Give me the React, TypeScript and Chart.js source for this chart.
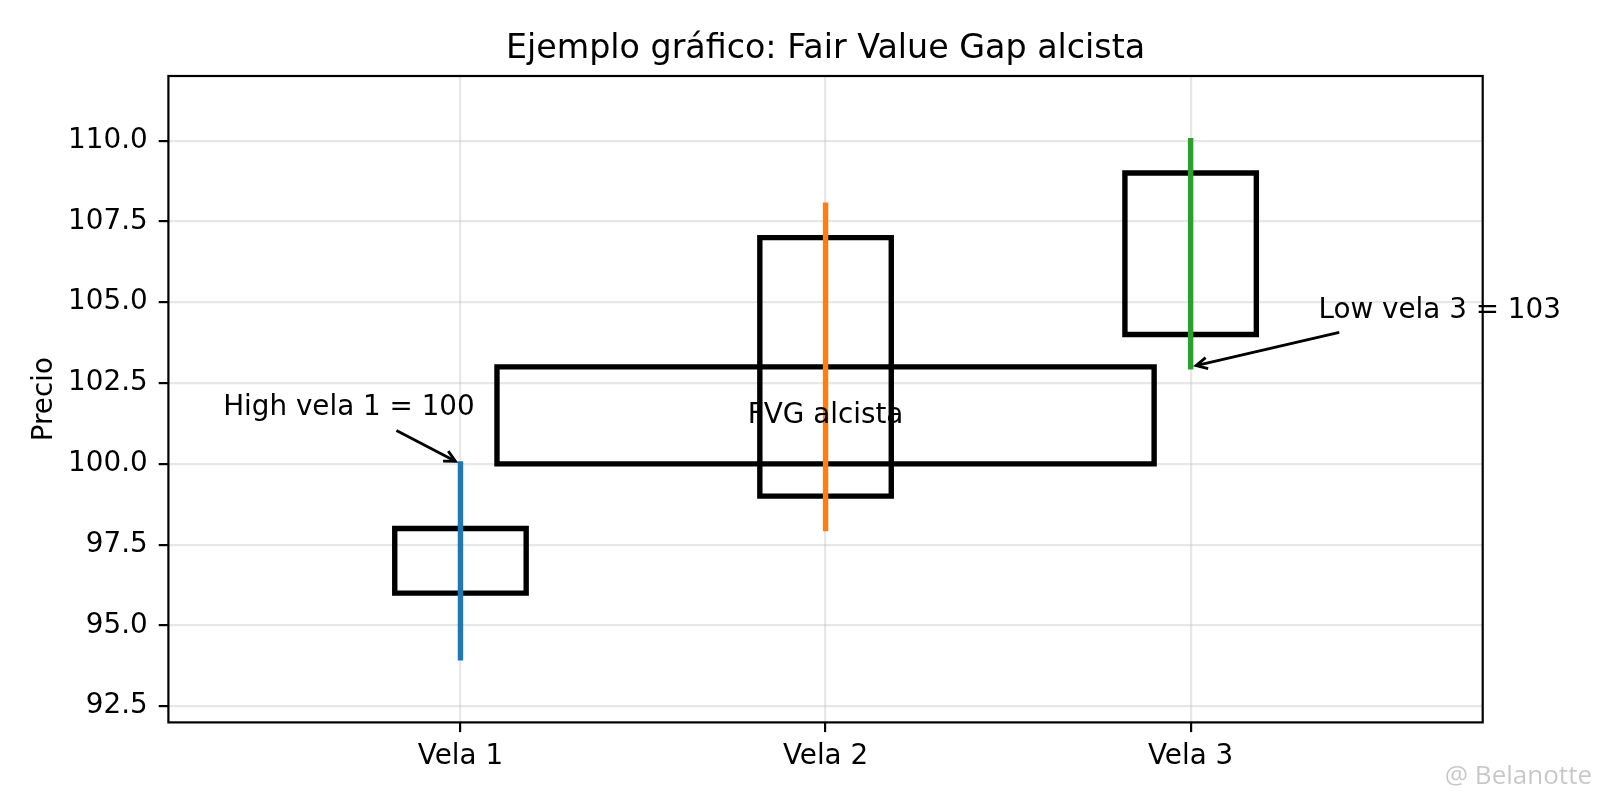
import { useEffect, useRef } from "react";
import { Chart, registerables } from "chart.js";

Chart.register(...registerables);

const categories: string[] = ["Vela 1", "Vela 2", "Vela 3"];
const openValues: number[] = [96, 99, 104];
const closeValues: number[] = [98, 107, 109];
const highValues: number[] = [100, 108, 110];
const lowValues: number[] = [94, 98, 103];
const wickColors: string[] = ["#1f77b4", "#ff7f0e", "#2ca02c"];
const yTickValues: number[] = [92.5, 95, 97.5, 100, 102.5, 105, 107.5, 110];

// zona del FVG: entre el high de la vela 1 y el low de la vela 3
const fvgStart = 0.1;
const fvgEnd = 1.9;
const fvgLow = highValues[0];
const fvgHigh = lowValues[2];
const fvgLabel = { text: "FVG alcista", x: 1, y: 101.5 };

type annotation = { text: string; x: number; y: number; textX: number; textY: number };
const annotations: annotation[] = [
    { text: "High vela 1 = 100", x: 0, y: 100, textX: -0.65, textY: 101.5 },
    { text: "Low vela 3 = 103", x: 2, y: 103, textX: 2.35, textY: 104.5 },
];

const chartTitle = "Ejemplo gráfico: Fair Value Gap alcista";
const BODY_HALF = 0.18;
const FONT = "'DejaVu Sans', sans-serif";
const TICK_SIZE = 27.8;
const LINE_W = 5.4;

const rectPoints = (x0: number, x1: number, y0: number, y1: number) => [
    { x: x0, y: y0 },
    { x: x1, y: y0 },
    { x: x1, y: y1 },
    { x: x0, y: y1 },
    { x: x0, y: y0 },
    { x: x1, y: y0 },
];

const annotatePlugin = {
    id: "annotate",
    afterDraw(chart: any) {
        const { ctx, chartArea, scales } = chart;
        const xs = scales.x;
        const ys = scales.y;
        ctx.save();

        // marco del gráfico
        ctx.strokeStyle = "#000";
        ctx.lineWidth = 2.2;
        ctx.strokeRect(chartArea.left, chartArea.top, chartArea.right - chartArea.left, chartArea.bottom - chartArea.top);

        // título centrado sobre los ejes
        ctx.font = `33.3px ${FONT}`;
        ctx.fillStyle = "#000";
        ctx.textAlign = "center";
        ctx.textBaseline = "alphabetic";
        ctx.fillText(chartTitle, (chartArea.left + chartArea.right) / 2, 58);

        ctx.font = `${TICK_SIZE}px ${FONT}`;
        ctx.textBaseline = "middle";
        ctx.fillText(fvgLabel.text, xs.getPixelForValue(fvgLabel.x), ys.getPixelForValue(fvgLabel.y));

        annotations.forEach((a) => {
            const tx = xs.getPixelForValue(a.textX);
            const ty = ys.getPixelForValue(a.textY);
            ctx.textAlign = "left";
            ctx.textBaseline = "alphabetic";
            ctx.fillStyle = "#000";
            ctx.fillText(a.text, tx, ty);

            const m = ctx.measureText(a.text);
            const asc = m.fontBoundingBoxAscent || TICK_SIZE * 0.93;
            const desc = m.fontBoundingBoxDescent || TICK_SIZE * 0.24;
            const pad = 5.6;
            const bx0 = tx - pad;
            const bx1 = tx + m.width + pad;
            const by0 = ty - asc - pad;
            const by1 = ty + desc + pad;
            const cx = (bx0 + bx1) / 2;
            const cy = (by0 + by1) / 2;

            const px = xs.getPixelForValue(a.x);
            const py = ys.getPixelForValue(a.y);
            const dx = px - cx;
            const dy = py - cy;
            const len = Math.hypot(dx, dy);
            const ux = dx / len;
            const uy = dy / len;
            const tX = dx !== 0 ? ((dx > 0 ? bx1 : bx0) - cx) / dx : Infinity;
            const tY = dy !== 0 ? ((dy > 0 ? by1 : by0) - cy) / dy : Infinity;
            const t = Math.min(tX, tY);
            const shrink = 5.6;
            const sx = cx + dx * t + ux * shrink;
            const sy = cy + dy * t + uy * shrink;
            const ex = px - ux * shrink;
            const ey = py - uy * shrink;

            ctx.strokeStyle = "#000";
            ctx.lineWidth = 2.8;
            ctx.lineCap = "butt";
            ctx.lineJoin = "miter";
            ctx.beginPath();
            ctx.moveTo(sx, sy);
            ctx.lineTo(ex, ey);
            ctx.stroke();

            const headLen = 11.1;
            const headW = 5.6;
            const bxp = ex - ux * headLen;
            const byp = ey - uy * headLen;
            ctx.beginPath();
            ctx.moveTo(bxp - uy * headW, byp + ux * headW);
            ctx.lineTo(ex, ey);
            ctx.lineTo(bxp + uy * headW, byp - ux * headW);
            ctx.stroke();
        });

        // marca de agua
        ctx.font = `26px 'Open Sans', sans-serif`;
        ctx.fillStyle = "rgba(0,0,0,0.22)";
        ctx.textAlign = "right";
        ctx.textBaseline = "alphabetic";
        ctx.fillText("@ Belanotte", 1592, 784);

        ctx.restore();
    },
};

export const FvgChart: React.FC = () => {
    const chartRef: any = useRef(null);

    useEffect(() => {
        document.body.style.margin = "0";
        let chartInstance: any = null;
        if (!chartRef.current) return;

        const wickSets = categories.map((_, i) => ({
            label: `Mecha ${categories[i]}`,
            data: [
                { x: i, y: lowValues[i] },
                { x: i, y: highValues[i] },
            ],
            showLine: true,
            borderColor: wickColors[i],
            borderWidth: LINE_W,
            borderCapStyle: "square",
            pointRadius: 0,
            order: 0,
        }));

        const bodySets = categories.map((_, i) => ({
            label: `Cuerpo ${categories[i]}`,
            data: rectPoints(i - BODY_HALF, i + BODY_HALF, openValues[i], closeValues[i]),
            showLine: true,
            borderColor: "#000",
            borderWidth: LINE_W,
            borderJoinStyle: "miter",
            pointRadius: 0,
            order: 1,
        }));

        const fvgSet = {
            label: "FVG",
            data: rectPoints(fvgStart, fvgEnd, fvgLow, fvgHigh),
            showLine: true,
            borderColor: "#000",
            borderWidth: LINE_W,
            borderJoinStyle: "miter",
            pointRadius: 0,
            order: 2,
        };

        const ctx = chartRef.current.getContext("2d");
        chartInstance = new Chart(ctx, {
            type: "scatter",
            data: { datasets: [...wickSets, ...bodySets, fvgSet] as any },
            options: {
                responsive: false,
                animation: false,
                devicePixelRatio: 1,
                events: [],
                layout: { padding: { left: 0, right: 117.3, top: 76, bottom: 0 } },
                plugins: {
                    legend: { display: false },
                    tooltip: { enabled: false },
                    title: { display: false },
                },
                scales: {
                    x: {
                        type: "linear",
                        min: -0.8,
                        max: 2.8,
                        afterBuildTicks: (scale: any) => {
                            scale.ticks = categories.map((_, i) => ({ value: i }));
                        },
                        afterFit: (scale: any) => {
                            scale.height = 77.6;
                        },
                        ticks: {
                            autoSkip: false,
                            maxRotation: 0,
                            padding: 8,
                            color: "#000",
                            font: { family: FONT, size: TICK_SIZE },
                            callback: (v: any) => categories[Math.round(Number(v))] ?? "",
                        },
                        grid: {
                            color: "rgba(176,176,176,0.3)",
                            lineWidth: 2.2,
                            tickColor: "#000",
                            tickWidth: 2.2,
                            tickLength: 9.7,
                        },
                        border: { display: false },
                    },
                    y: {
                        type: "linear",
                        min: 92,
                        max: 112,
                        afterBuildTicks: (scale: any) => {
                            scale.ticks = yTickValues.map((v) => ({ value: v }));
                        },
                        afterFit: (scale: any) => {
                            scale.width = 168.4;
                        },
                        title: {
                            display: true,
                            text: "Precio",
                            color: "#000",
                            font: { family: FONT, size: TICK_SIZE },
                            padding: { top: 28, bottom: 0 },
                        },
                        ticks: {
                            autoSkip: false,
                            padding: 11,
                            color: "#000",
                            font: { family: FONT, size: TICK_SIZE },
                            callback: (v: any) => Number(v).toFixed(1),
                        },
                        grid: {
                            color: "rgba(176,176,176,0.3)",
                            lineWidth: 2.2,
                            tickColor: "#000",
                            tickWidth: 2.2,
                            tickLength: 9.7,
                        },
                        border: { display: false },
                    },
                },
            } as any,
            plugins: [annotatePlugin],
        });

        return () => {
            if (chartInstance) {
                chartInstance.destroy();
            }
        };
    }, []);

    return (
        <div style={{ width: 1600, height: 800, background: "#fff" }}>
            <canvas ref={chartRef} width={1600} height={800} />
        </div>
    );
};

export default function App() {
    return <FvgChart />;
}
